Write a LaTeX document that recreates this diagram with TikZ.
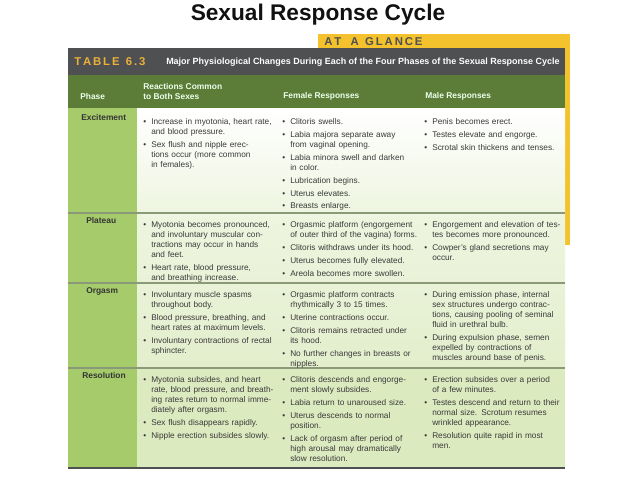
\documentclass[tikz,border=0pt]{standalone}
\usepackage{fontspec}
\setmainfont{Liberation Sans}
\usepackage{graphicx}
\definecolor{ttl}{HTML}{111111}
\definecolor{ylw}{HTML}{F3C22C}
\definecolor{dgray}{HTML}{4E5052}
\definecolor{dgreen}{HTML}{5B7D37}
\definecolor{pgreen}{HTML}{A6CB6A}
\definecolor{bgreen}{HTML}{DCEAC0}
\definecolor{lgrn}{HTML}{EEF5E0}
\definecolor{txt}{HTML}{3A3A3A}
\definecolor{orng}{HTML}{EDB13A}
\definecolor{rule}{HTML}{8A9A78}
\newcommand{\bu}[1]{\par\hangindent=6pt\hangafter=1\noindent\makebox[6pt][l]{\textbullet}\ignorespaces#1\par\vspace{2.2pt}}
\newcommand{\nl}{\newline}
\tikzset{
  cell/.style={anchor=north west,inner sep=0pt,text width=112pt,text=txt,font=\fontsize{6.2}{7.5}\selectfont},
  ph/.style={anchor=north west,inner sep=0pt,text=ttl!85,font=\fontsize{6.3}{7.5}\selectfont\bfseries},
  hd/.style={anchor=west,inner sep=0pt,text=white!92!green,font=\fontsize{6.3}{7.5}\selectfont\bfseries,align=left},
  hline/.style={draw=rule,line width=0.9pt}
}
\begin{document}
\begin{tikzpicture}[x=0.75pt,y=-0.75pt]
\useasboundingbox (0,0) rectangle (638,478);
\fill[white] (0,0) rectangle (638,478);
\node[font=\fontsize{17}{20}\selectfont\bfseries,text=ttl] (title) at (318,15) {Sexual Response Cycle};
% yellow box
\fill[ylw] (318,34) rectangle (570,245);
\node[anchor=west,inner sep=0pt,font=\fontsize{8.5}{10}\selectfont\bfseries,text=dgray] (glance) at (324,41.5) {A\,T\ \ \ A\ \ G\,L\,A\,N\,C\,E};
% header
\fill[dgray] (68,48) rectangle (565,75);
\node[anchor=west,inner sep=0pt,font=\fontsize{8.5}{10}\selectfont\bfseries,text=orng] (tab) at (74,62) {T\,A\,B\,L\,E\ \ 6\,.\,3};
\node[anchor=west,inner sep=0pt,text=white] (ttext) at (166,62) {\resizebox{295pt}{!}{\fontsize{8}{9}\selectfont\bfseries Major Physiological Changes During Each of the Four Phases of the Sexual Response Cycle}};
\fill[dgreen] (68,75) rectangle (565,108);
\node[hd] (h1) at (80,96) {Phase};
\node[hd] (h2) at (143,91) {Reactions Common\\to Both Sexes};
\node[hd] (h3) at (283,96) {Female Responses};
\node[hd] (h4) at (425,96) {Male Responses};
% body
\shade[top color=white,bottom color=lgrn] (137,108) rectangle (565,213);
\shade[top color=lgrn,bottom color=bgreen!80] (137,213) rectangle (565,368);
\fill[bgreen] (137,368) rectangle (565,467);
\fill[pgreen] (68,108) rectangle (137,467);
\draw[hline] (68,213) -- (565,213);
\draw[hline] (68,283) -- (565,283);
\draw[hline] (68,368) -- (565,368);
\draw[draw=dgray,line width=2pt] (68,468) -- (565,468);
% phases
\node[ph] (p1) at (81,114) {Excitement};
\node[ph] (p2) at (86,217) {Plateau};
\node[ph] (p3) at (86,287) {Orgasm};
\node[ph] (p4) at (82,372) {Resolution};
% Excitement
\node[cell] (e1) at (143,114) {\bu{Increase in myotonia, heart rate,\nl and blood pressure.}\bu{Sex flush and nipple erec-\nl tions occur (more common\nl in females).}};
\node[cell] (e2) at (282,114) {\bu{Clitoris swells.}\bu{Labia majora separate away\nl from vaginal opening.}\bu{Labia minora swell and darken\nl in color.}\bu{Lubrication begins.}\bu{Uterus elevates.}\bu{Breasts enlarge.}};
\node[cell] (e3) at (424,114) {\bu{Penis becomes erect.}\bu{Testes elevate and engorge.}\bu{Scrotal skin thickens and tenses.}};
% Plateau
\node[cell] (l1) at (143,217) {\bu{Myotonia becomes pronounced,\nl and involuntary muscular con-\nl tractions may occur in hands\nl and feet.}\bu{Heart rate, blood pressure,\nl and breathing increase.}};
\node[cell] (l2) at (282,217) {\bu{Orgasmic platform (engorgement\nl of outer third of the vagina) forms.}\bu{Clitoris withdraws under its hood.}\bu{Uterus becomes fully elevated.}\bu{Areola becomes more swollen.}};
\node[cell] (l3) at (424,217) {\bu{Engorgement and elevation of tes-\nl tes becomes more pronounced.}\bu{Cowper’s gland secretions may\nl occur.}};
% Orgasm
\node[cell] (o1) at (143,287) {\bu{Involuntary muscle spasms\nl throughout body.}\bu{Blood pressure, breathing, and\nl heart rates at maximum levels.}\bu{Involuntary contractions of rectal\nl sphincter.}};
\node[cell] (o2) at (282,287) {\bu{Orgasmic platform contracts\nl rhythmically 3 to 15 times.}\bu{Uterine contractions occur.}\bu{Clitoris remains retracted under\nl its hood.}\bu{No further changes in breasts or\nl nipples.}};
\node[cell] (o3) at (424,287) {\bu{During emission phase, internal\nl sex structures undergo contrac-\nl tions, causing pooling of seminal\nl fluid in urethral bulb.}\bu{During expulsion phase, semen\nl expelled by contractions of\nl muscles around base of penis.}};
% Resolution
\node[cell] (r1) at (143,372) {\bu{Myotonia subsides, and heart\nl rate, blood pressure, and breath-\nl ing rates return to normal imme-\nl diately after orgasm.}\bu{Sex flush disappears rapidly.}\bu{Nipple erection subsides slowly.}};
\node[cell] (r2) at (282,372) {\bu{Clitoris descends and engorge-\nl ment slowly subsides.}\bu{Labia return to unaroused size.}\bu{Uterus descends to normal\nl position.}\bu{Lack of orgasm after period of\nl high arousal may dramatically\nl slow resolution.}};
\node[cell] (r3) at (424,372) {\bu{Erection subsides over a period\nl of a few minutes.}\bu{Testes descend and return to their\nl normal size. Scrotum resumes\nl wrinkled appearance.}\bu{Resolution quite rapid in most\nl men.}};
\end{tikzpicture}
\end{document}
